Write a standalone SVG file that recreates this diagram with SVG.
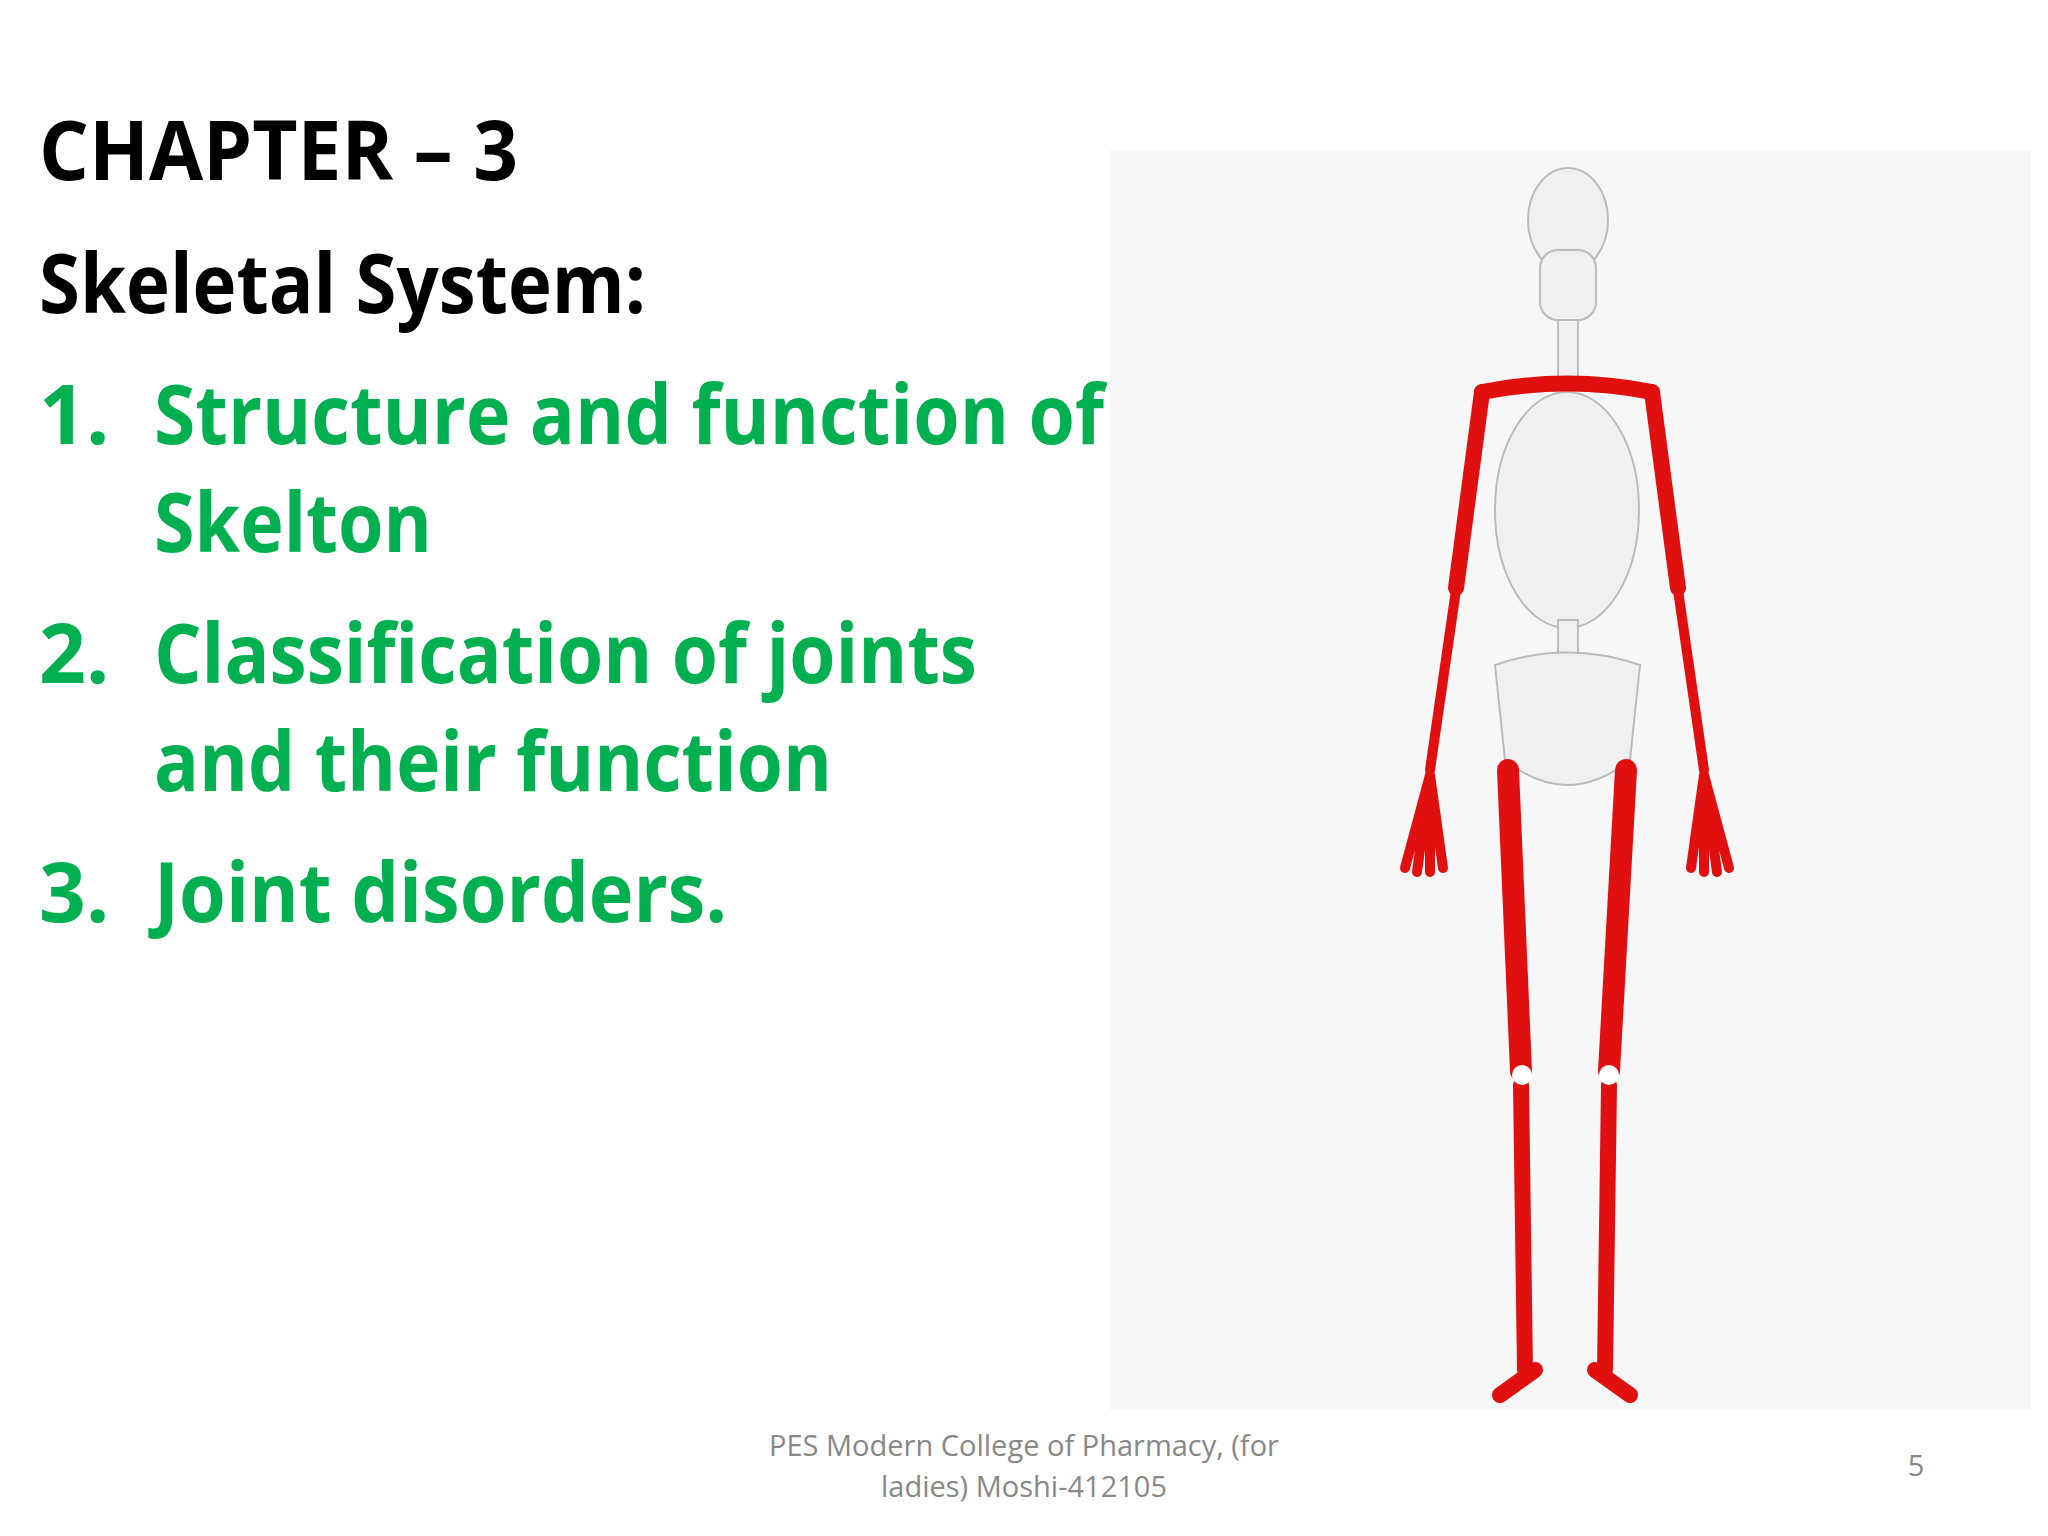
<svg xmlns="http://www.w3.org/2000/svg" width="2048" height="1536" viewBox="0 0 2048 1536">
<style>
.t{font-family:"Open Sans","Noto Sans",sans-serif;font-weight:bold;font-size:82px}
.g{fill:#00B050}
.f{font-family:"Open Sans","Noto Sans",sans-serif;font-size:29px;fill:#888}
.bone{fill:#f0f0f0;stroke:#bbb;stroke-width:2}
.red{stroke:#e01010;stroke-linecap:round;fill:none}
</style>
<rect width="2048" height="1536" fill="#fff"/>
<g id="title">
<text class="t" x="39" y="180" textLength="479" lengthAdjust="spacingAndGlyphs">CHAPTER – 3</text>
<text class="t" x="39" y="313" textLength="607" lengthAdjust="spacingAndGlyphs">Skeletal System:</text>
</g>
<g id="list" class="t g">
<text x="39" y="444">1.</text>
<text x="154" y="444" textLength="950" lengthAdjust="spacingAndGlyphs">Structure and function of</text>
<text x="154" y="552" textLength="278" lengthAdjust="spacingAndGlyphs">Skelton</text>
<text x="39" y="683">2.</text>
<text x="154" y="683" textLength="823" lengthAdjust="spacingAndGlyphs">Classification of joints</text>
<text x="154" y="791" textLength="678" lengthAdjust="spacingAndGlyphs">and their function</text>
<text x="39" y="922">3.</text>
<text x="154" y="922" textLength="573" lengthAdjust="spacingAndGlyphs">Joint disorders.</text>
</g>
<g id="image">
<rect x="1110" y="150" width="921" height="1260" fill="#f7f7f7"/>
<ellipse class="bone" cx="1568" cy="220" rx="40" ry="52"/>
<rect class="bone" x="1540" y="250" width="56" height="70" rx="18"/>
<rect class="bone" x="1558" y="320" width="20" height="70"/>
<ellipse class="bone" cx="1567" cy="510" rx="72" ry="118"/>
<rect class="bone" x="1558" y="620" width="20" height="50"/>
<path class="bone" d="M1495 665 Q1567 640 1640 665 L1630 760 Q1567 810 1505 760 Z"/>
<g class="red" stroke-width="16">
<path d="M1482 392 Q1567 375 1652 392"/>
<path d="M1482 392 L1456 588"/>
<path d="M1652 392 L1678 588"/>
</g>
<g class="red" stroke-width="10">
<path d="M1456 590 L1430 770"/>
<path d="M1678 590 L1704 770"/>
<path d="M1430 775 L1405 868 M1430 775 L1417 872 M1430 775 L1430 872 M1430 775 L1443 868"/>
<path d="M1704 775 L1729 868 M1704 775 L1717 872 M1704 775 L1704 872 M1704 775 L1691 868"/>
</g>
<g class="red" stroke-width="22">
<path d="M1508 770 L1521 1071"/>
<path d="M1626 770 L1609 1071"/>
</g>
<g class="red" stroke-width="16">
<path d="M1521 1085 L1525 1370"/>
<path d="M1609 1085 L1605 1370"/>
<path d="M1500 1395 L1535 1370 M1630 1395 L1595 1370"/>
</g>
<circle cx="1522" cy="1075" r="10" fill="#fff"/>
<circle cx="1609" cy="1075" r="10" fill="#fff"/>
</g>
<g id="footer">
<text class="f" x="1024" y="1456" text-anchor="middle">PES Modern College of Pharmacy, (for</text>
<text class="f" x="1024" y="1497" text-anchor="middle">ladies) Moshi-412105</text>
<text class="f" x="1916" y="1476" text-anchor="middle">5</text>
</g>
</svg>
